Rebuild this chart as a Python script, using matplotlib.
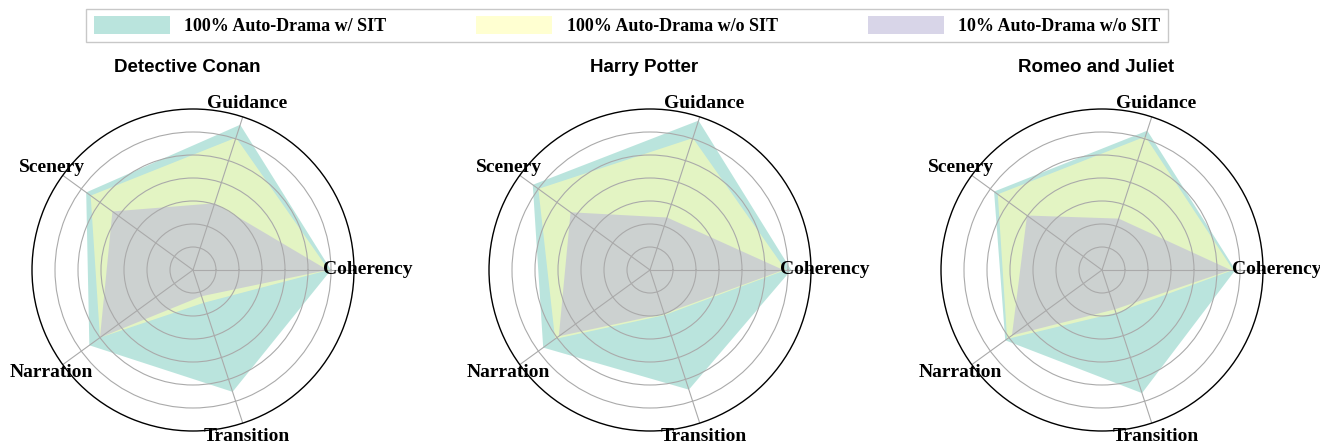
import numpy as np
import matplotlib
matplotlib.use("Agg")
import matplotlib.pyplot as plt
from matplotlib.patches import Patch

categories = ["Coherency", "Guidance", "Scenery", "Narration", "Transition"]
titles = ["Detective Conan", "Harry Potter", "Romeo and Juliet"]
series_names = ["100% Auto-Drama w/ SIT", "100% Auto-Drama w/o SIT", "10% Auto-Drama w/o SIT"]

conan_sit = [6.0, 6.64, 5.74, 5.57, 5.57]
conan_nosit = [5.9, 6.05, 5.5, 5.0, 1.5]
conan_10 = [5.85, 3.05, 4.33, 5.0, 1.2]

potter_sit = [6.14, 6.83, 6.3, 5.74, 5.47]
potter_nosit = [5.9, 6.03, 6.0, 5.1, 2.06]
potter_10 = [5.8, 2.4, 4.27, 4.9, 2.0]

romeo_sit = [5.8, 6.37, 5.8, 5.2, 5.63]
romeo_nosit = [5.7, 6.1, 5.6, 5.1, 1.96]
romeo_10 = [5.6, 2.35, 4.03, 4.84, 1.8]

data = [
    [conan_sit, conan_nosit, conan_10],
    [potter_sit, potter_nosit, potter_10],
    [romeo_sit, romeo_nosit, romeo_10],
]
colors = ["#8dd3c7", "#ffffb3", "#bebada"]

fig = plt.figure(figsize=(13.2, 4.45), dpi=100)
n = len(categories)
angles = np.linspace(0, 2 * np.pi, n, endpoint=False)
centers = [193, 650, 1102]
R = 161
for i, (cx, series, title) in enumerate(zip(centers, data, titles)):
    ax = fig.add_axes([(cx - R) / 1320, (445 - 270 - R) / 445, 2 * R / 1320, 2 * R / 445], polar=True)
    for vals, c in zip(series, colors):
        a = np.concatenate([angles, angles[:1]])
        v = np.concatenate([vals, vals[:1]])
        ax.fill(a, v, color=c, alpha=0.6, lw=0)
    ax.set_ylim(0, 7)
    ax.set_yticks([1, 2, 3, 4, 5, 6])
    ax.set_yticklabels([])
    ax.set_xticks(angles)
    ax.set_xticklabels([])
    ax.grid(color="#aaaaaa", lw=0.8)
    ax.spines["polar"].set_color("black")
    ax.spines["polar"].set_linewidth(1.0)
    for ang, lab in zip(angles, categories):
        ax.text(ang, 7.6, lab, ha="center", va="center", fontsize=14,
                fontweight="bold", family="Liberation Serif")
    fig.text((cx - 6) / 1320, 1 - 68 / 445, title, ha="center", va="center",
             fontsize=13.5, fontweight="bold", family="Liberation Sans")

handles = [Patch(facecolor=c, alpha=0.6, edgecolor="none") for c in colors]
fig.legend(handles, series_names, loc="upper center", bbox_to_anchor=(0.475, 1.0), ncol=3,
           prop={"family": "Liberation Serif", "weight": "bold", "size": 13},
           handlelength=4.2, handleheight=1.1, columnspacing=5.0, frameon=True,
           fancybox=False, edgecolor="#bbbbbb", borderpad=0.4)
fig.savefig("out.png", dpi=100)
